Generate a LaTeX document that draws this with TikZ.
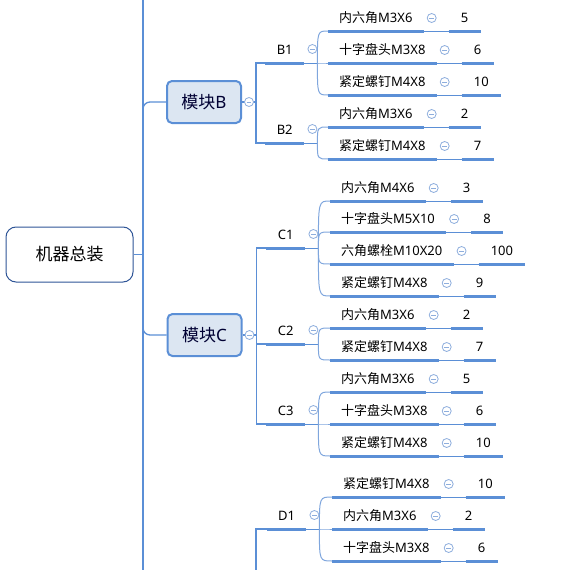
\documentclass[tikz,border=0pt]{standalone}
\usepackage{fontspec}
\setmainfont{Noto Sans CJK SC}
\newfontfamily\latinfont{Noto Sans}
\usetikzlibrary{positioning}

\definecolor{linkblue}{HTML}{5B8FD6}
\definecolor{twigblue}{HTML}{7FA6DD}
\definecolor{rootblue}{HTML}{2F5597}
\definecolor{modfill}{HTML}{DCE6F2}
\definecolor{foldblue}{HTML}{8EAEDD}

\tikzset{
 rootbox/.style={draw=rootblue, line width=1pt, rounded corners=10pt, fill=white,
   minimum width=127pt, minimum height=55pt, font=\fontsize{17}{20}\selectfont},
 modbox/.style={draw=linkblue, fill=modfill, line width=2pt, rounded corners=5pt,
   minimum width=74pt, minimum height=42pt, text=black!80!blue, font=\fontsize{17}{20}\selectfont},
 subtopic/.style={anchor=south west, inner xsep=11pt, inner ysep=0pt, minimum height=26pt,
   minimum width=39pt, font=\fontsize{13}{15}\selectfont\latinfont},
 leaftopic/.style={subtopic, minimum width=0pt, font=\fontsize{13}{15}\selectfont},
 qtytopic/.style={subtopic, inner xsep=12pt, minimum width=30pt},
 foldmark/.style={circle, draw=foldblue, fill=white, line width=0.8pt, minimum size=9pt, inner sep=0pt,
   path picture={\draw[foldblue, line width=0.8pt] ([xshift=-2.4pt]path picture bounding box.center)
     -- ([xshift=2.4pt]path picture bounding box.center);}},
 spine/.style={draw=linkblue, line width=1.3pt},
 linkline/.style={draw=linkblue, line width=1pt},
 twigline/.style={draw=twigblue, line width=1pt},
 underbar/.style={draw=linkblue, line width=3pt}
}

\begin{document}
\begin{tikzpicture}[x=1pt, y=-1pt]
 \useasboundingbox (0,0) rectangle (581,570);

 \coordinate (top) at (143,0);
 \coordinate (bot) at (143,570);
 \coordinate (bjoin) at (143,115);
 \coordinate (cjoin) at (143,323);
 \coordinate (dend) at (256,575);
 \draw[spine] (top) -- (bot);

 \node[rootbox] (root) at (69.5,254.5) {机器总装};
 \draw[spine] (root.east) -- (root.east -| top);

 \node[modbox] (modB) at (204,102) {模块{\latinfont B}};
 \node[modbox] (modC) at (204.5,335) {模块{\latinfont C}};
 \draw[spine, rounded corners=7pt] (bjoin) |- (modB.west);
 \draw[spine, rounded corners=7pt] (cjoin) |- (modC.west);

 \node[subtopic] (b1) at (265,63) {B1};
 \node[subtopic] (b2) at (265,143) {B2};
 \node[subtopic] (c1) at (266,248) {C1};
 \node[subtopic] (c2) at (266,344) {C2};
 \node[subtopic] (c3) at (266,424) {C3};
 \node[subtopic] (d1) at (267,529) {D1};

 \draw[spine] (modB.east) -- ++(14,0) coordinate (bfork);
 \draw[spine] (modC.east) -- ++(14,0) coordinate (cfork);
 \foreach \s in {b1,b2} \draw[spine] (bfork) |- (\s.south west);
 \foreach \s in {c1,c2,c3} \draw[spine] (cfork) |- (\s.south west);
 \draw[spine] (d1.south west) -| (dend);

 \foreach \s in {b1,b2,c1,c2,c3,d1} {
  \draw[underbar] (\s.south west) -- (\s.south east);
  \draw[linkline] (\s.south east) -- ++(13,0) coordinate (\s-f);
 }

 \foreach \p/\nm/\xx/\yy/\txt/\lat/\num in {
   b1/b1a/328/31/内六角/M3X6/5, b1/b1b/328/63/十字盘头/M3X8/6, b1/b1c/328/95/紧定螺钉/M4X8/10,
   b2/b2a/328/127/内六角/M3X6/2, b2/b2b/328/159/紧定螺钉/M4X8/7,
   c1/c1a/330/201/内六角/M4X6/3, c1/c1b/330/232/十字盘头/M5X10/8,
   c1/c1c/330/264/六角螺栓/M10X20/100, c1/c1d/330/296/紧定螺钉/M4X8/9,
   c2/c2a/330/328/内六角/M3X6/2, c2/c2b/330/360/紧定螺钉/M4X8/7,
   c3/c3a/330/392/内六角/M3X6/5, c3/c3b/330/424/十字盘头/M3X8/6, c3/c3c/330/456/紧定螺钉/M4X8/10,
   d1/d1a/332/497/紧定螺钉/M4X8/10, d1/d1b/332/529/内六角/M3X6/2, d1/d1c/332/561/十字盘头/M3X8/6} {
  \node[leaftopic] (\nm) at (\xx,\yy) {\txt{\latinfont\lat}};
  \node[qtytopic, right=25pt of \nm.south east, anchor=south west] (\nm-q) {\num};
  \draw[twigline] (\p-f) .. controls (\p-f |- \nm.south west) .. (\nm.south west);
  \draw[linkline] (\nm.south east) -- (\nm-q.south west);
  \draw[underbar] (\nm.south west) -- (\nm.south east);
  \draw[underbar] (\nm-q.south west) -- (\nm-q.south east);
  \node[foldmark] at ([xshift=8pt, yshift=13pt]\nm.south east) {};
 }

 \foreach \s in {b1,b2,c1,c2,c3,d1}
  \node[foldmark] at ([xshift=8pt, yshift=14pt]\s.south east) {};
 \node[foldmark] at ([xshift=7pt]modB.east) {};
 \node[foldmark] at ([xshift=7pt]modC.east) {};
\end{tikzpicture}
\end{document}
